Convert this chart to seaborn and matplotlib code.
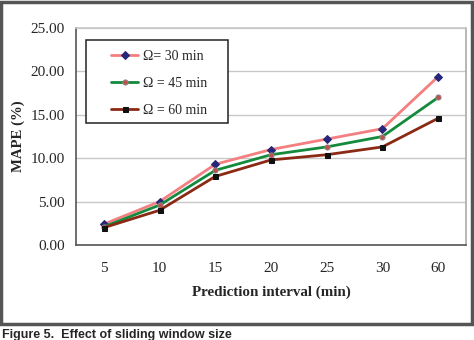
import matplotlib
matplotlib.use("Agg")
import matplotlib.pyplot as plt
from matplotlib.patches import Rectangle
import numpy as np
import pandas as pd
import seaborn as sns

intervals = ["5", "10", "15", "20", "25", "30", "60"]
mape_30 = [2.4, 5.0, 9.3, 11.0, 12.2, 13.4, 19.4]
mape_45 = [2.1, 4.6, 8.6, 10.4, 11.3, 12.5, 17.0]
mape_60 = [2.0, 4.0, 7.9, 9.8, 10.4, 11.3, 14.6]
series_labels = ["\u03a9= 30 min", "\u03a9 = 45 min", "\u03a9 = 60 min"]
y_ticks = [0, 5, 10, 15, 20, 25]

W, H = 474, 340

sns.set_theme(style="white")
plt.rcParams["font.family"] = ["Liberation Serif", "DejaVu Serif"]

fig = plt.figure(figsize=(W / 100, H / 100), dpi=100)
ax = fig.add_axes([76 / W, 1 - 245 / H, 390 / W, 217 / H])

pos = np.arange(len(intervals))
styles = [
    dict(color="#f47f80", marker="D", markersize=3.6, markerfacecolor="#26267a",
         markeredgecolor="#26267a"),
    dict(color="#138a3c", marker="o", markersize=3.8, markerfacecolor="#c0504d",
         markeredgecolor="#8c8c8c", markeredgewidth=0.6),
    dict(color="#8b2a14", marker="s", markersize=3.6, markerfacecolor="#111111",
         markeredgecolor="#111111"),
]
for vals, lab, st in zip([mape_30, mape_45, mape_60], series_labels, styles):
    df = pd.DataFrame({"pos": pos, "mape": vals})
    sns.lineplot(data=df, x="pos", y="mape", ax=ax, label=lab, linewidth=2.0, **st)

ax.set_ylim(0, 25)
ax.set_yticks(y_ticks)
ax.set_yticklabels([f"{v:.2f}" for v in y_ticks], fontsize=11)
ax.set_xlim(-0.5, len(intervals) - 0.5)
ax.set_xticks(np.arange(-0.5, len(intervals)), minor=False)
ax.set_xticklabels([])
ax.set_xticks(pos, minor=True)
ax.set_xticklabels(intervals, minor=True, fontsize=11)
ax.tick_params(axis="x", which="major", direction="out", length=5, width=1, color="#555555")
ax.tick_params(axis="x", which="minor", length=0, pad=12)
ax.tick_params(axis="y", direction="out", length=5, width=1, color="#555555", pad=3)

ax.grid(axis="y", color="#c8c8c8", linewidth=1)
ax.set_axisbelow(True)
for side in ["left", "bottom"]:
    ax.spines[side].set_color("#555555")
    ax.spines[side].set_linewidth(1.2)
ax.spines["top"].set_color("#c8c8c8")
ax.spines["right"].set_color("#aaaaaa")
ax.spines["right"].set_linewidth(1.2)

ax.set_xlabel("Prediction interval (min)", fontsize=10.8, fontweight="bold", labelpad=8)
ax.set_ylabel("MAPE (%)", fontsize=10.6, fontweight="bold", labelpad=4)

# legend entries without frame, boxed by a separate rectangle
leg = ax.legend(loc="upper left", bbox_to_anchor=(111 / W, 1 - 50 / H),
                bbox_transform=fig.transFigure, fontsize=10, frameon=False,
                borderpad=0, borderaxespad=0, labelspacing=1.02,
                handlelength=1.95, handletextpad=0.35)
ax.add_patch(Rectangle((86 / W, 1 - 123 / H), 142 / W, 83 / H,
                       transform=fig.transFigure, fill=True, facecolor="white",
                       edgecolor="#222222", linewidth=1.1, zorder=4))
leg.set_zorder(5)

# outer frame around the figure panel
fig.patches.append(Rectangle((1.2 / W, 1 - 323.5 / H), 471 / W, 322 / H,
                             transform=fig.transFigure, fill=False,
                             edgecolor="#555555", linewidth=2.5))

fig.text(2 / W, 1 - 338 / H, "Figure 5.  Effect of sliding window size",
         fontsize=9, fontweight="bold", family=["Liberation Sans", "DejaVu Sans"],
         va="baseline", ha="left")

fig.savefig("out.png", dpi=100)
